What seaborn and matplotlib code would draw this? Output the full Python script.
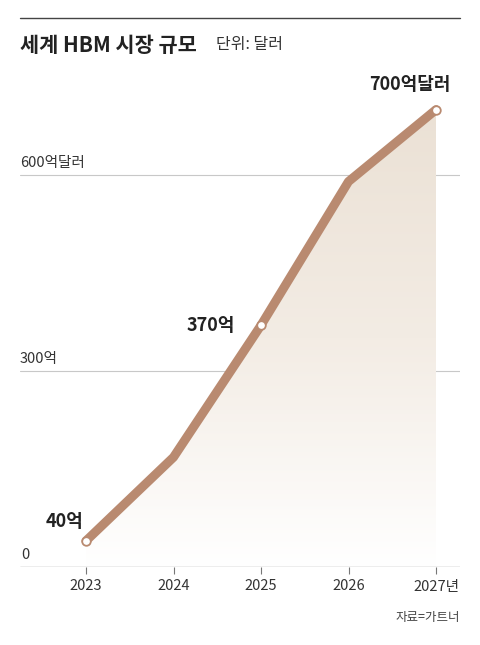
import matplotlib
matplotlib.use("Agg")
import matplotlib.pyplot as plt
import seaborn as sns
import numpy as np
from matplotlib.patches import Polygon
from matplotlib.lines import Line2D
from matplotlib.colors import LinearSegmentedColormap

sns.set_theme(style="white")
plt.rcParams['font.family'] = ['Noto Sans CJK KR', 'DejaVu Sans']

years = [2023, 2024, 2025, 2026, 2027]
values = [40, 168, 370, 590, 700]
tick_labels = ["2023", "2024", "2025", "2026", "2027년"]
annot_idx = [0, 2, 4]
annot_text = ["40억", "370억", "700억달러"]
grid_vals = [300, 600]
grid_labels = ["300억", "600억달러"]

line_c = "#b98a70"
fig = plt.figure(figsize=(4.8, 6.45), dpi=100)
ax = fig.add_axes([20/480, 1-567/645, 440/480, 490/645])
ax.set_xlim(2023-66/87.5, 2027+24/87.5)
ax.set_ylim(0, 750)

xs = np.array(years, float); ys = np.array(values, float)
grad = np.linspace(0, 1, 256).reshape(-1, 1)
cmap = LinearSegmentedColormap.from_list("g", ["#ffffff", "#f3ece4", "#ebe1d5"])
im = ax.imshow(grad, extent=[2023, 2027, 0, 700], origin='lower', aspect='auto', cmap=cmap, zorder=1)
poly = Polygon(list(zip(xs, ys)) + [(2027, 0), (2023, 0)], closed=True, transform=ax.transData)
im.set_clip_path(poly)

for gv, gl in zip(grid_vals, grid_labels):
    ax.axhline(gv, color="#c8c8c8", lw=0.8, zorder=0)
    ax.text(2023-66/87.5, gv + 8, gl, fontsize=10.5, color="#333", va="bottom", ha="left")
ax.text(2023-66/87.5 + 0.02, 8, "0", fontsize=10.5, color="#333", va="bottom", ha="left")
ax.axhline(0, color="#777", lw=0.9, zorder=2)

sns.lineplot(x=years, y=values, ax=ax, color=line_c, lw=6.5, zorder=3, solid_capstyle='round')
ax.scatter([years[i] for i in annot_idx], [values[i] for i in annot_idx], s=38,
           facecolor="white", edgecolor=line_c, linewidth=1.3, zorder=4)
offs = [(-0.25, 30), (-0.3, 0), (-0.3, 38)]
for i, t, (dx, dy) in zip(annot_idx, annot_text, offs):
    ax.text(years[i] + dx, values[i] + dy, t, fontsize=13, fontweight='bold', color="#222",
            ha="center" if i != 2 else "right", va="center", zorder=5)

ax.set_xticks(years)
ax.set_xticklabels(tick_labels, fontsize=10.5, color="#333")
ax.set_yticks([])
ax.tick_params(axis='x', length=5, width=0.8, color="#777", bottom=True, pad=4)
for s in ax.spines.values():
    s.set_visible(False)

fig.add_artist(Line2D([20/480, 460/480], [1-18/645]*2, color="#444", lw=1))
fig.text(20/480, 1-45/645, "세계 HBM 시장 규모", fontsize=15, fontweight='bold', color="#222", va="center")
fig.text(216/480, 1-45/645, "단위: 달러", fontsize=11.5, color="#333", va="center")
fig.text(460/480, 1-618/645, "자료=가트너", fontsize=9, color="#444", va="center", ha="right")

fig.savefig("out.png", dpi=100)
